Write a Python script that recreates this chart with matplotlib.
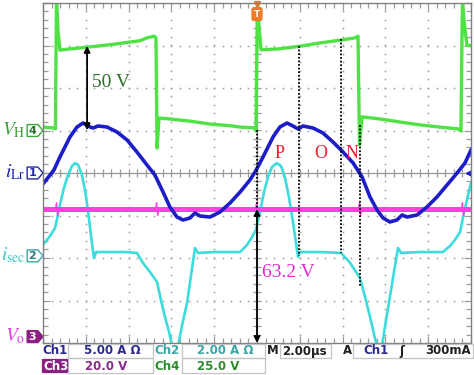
import matplotlib

matplotlib.use("Agg")

import matplotlib.pyplot as plt
import numpy as np
from matplotlib.patches import Polygon, Rectangle

W, H = 474, 375

# channel settings: units per division, ground position in divisions
CH1_SCALE, CH1_OFFSET = 5.0, 0.0     # i_Lr  [A]
CH2_SCALE, CH2_OFFSET = 2.0, -1.95   # i_sec [A]
CH3_SCALE, CH3_OFFSET = 20.0, -3.85  # V_o   [V]
CH4_SCALE, CH4_OFFSET = 25.0, 1.0    # V_H   [V]

# time in microseconds (trigger at 0)
vh_t = [-10.0, -9.49, -9.42, -9.37, -9.30, -9.21, -8.74, -7.94, -7.34, -6.54,
        -5.47, -5.14, -4.81, -4.72, -4.67, -4.58, -4.07, -3.13, -2.20, -1.26,
        -0.79, -0.09, -0.05, 0.02, 0.09, 0.19, 1.0, 1.96, 2.94, 3.93,
        4.58, 4.72, 4.79, 4.91, 5.75, 6.68, 7.62, 8.55, 9.39, 9.53,
        9.60, 9.67, 9.81, 10.0]
vh_v = [2.0, 1.5, 1.0, 77.5, 59.0, 47.3, 48.0, 49.0, 49.8, 51.0,
        52.8, 54.5, 55.5, 54.5, -10.3, 7.3, 6.8, 5.5, 3.8, 2.8,
        2.0, 1.5, -0.3, 77.5, 62.0, 47.5, 48.0, 49.5, 51.5, 53.2,
        54.5, 55.5, -8.5, 8.0, 6.8, 5.0, 3.3, 2.0, 1.0, -0.3,
        77.5, 65.0, 50.0, 50.0]

ilr_t = [-10.0, -9.67, -9.49, -9.21, -8.74, -8.41, -8.13, -7.80, -7.66, -7.43,
         -7.01, -6.54, -6.07, -5.61, -5.14, -4.77, -4.39, -4.07, -3.74, -3.46,
         -3.13, -2.90, -2.66, -2.20, -1.73, -1.26, -0.79, -0.33, -0.09, 0.28,
         0.75, 1.07, 1.40, 1.68, 1.92, 2.15, 2.62, 3.08, 3.55, 4.02,
         4.49, 4.91, 5.28, 5.61, 5.89, 6.21, 6.54, 6.78, 7.01, 7.48,
         7.94, 8.41, 8.88, 9.35, 9.72, 10.0]
ilr_a = [-1.29, -0.24, 0.35, 1.88, 4.24, 5.41, 5.88, 5.41, 5.29, 5.53,
         5.41, 4.82, 3.88, 2.47, 0.94, -0.24, -2.24, -4.0, -5.18, -5.53,
         -5.29, -4.71, -5.06, -5.18, -4.59, -3.53, -2.24, -0.82, 0.12, 1.88,
         4.24, 5.41, 5.88, 5.53, 5.18, 5.53, 5.29, 4.71, 3.65, 2.47,
         1.18, -0.47, -2.82, -4.35, -5.29, -5.76, -5.53, -4.94, -5.18, -4.94,
         -4.0, -2.82, -1.41, 0.0, 1.18, 2.71]

isec_t = [-10.0, -9.67, -9.44, -9.35, -9.21, -9.02, -8.83, -8.64, -8.50, -8.36,
          -8.18, -8.04, -7.90, -7.76, -7.62, -7.52, -6.87, -6.17, -5.61, -5.33,
          -5.00, -4.67, -4.49, -4.30, -4.11, -3.97, -3.69, -3.50, -3.27, -3.08,
          -2.90, -2.76, -1.96, -0.79, -0.47, -0.23, -0.05, 0.14, 0.33, 0.51,
          0.70, 0.93, 1.12, 1.31, 1.50, 1.68, 1.82, 1.92, 2.01, 2.94,
          3.93, 4.35, 4.81, 5.05, 5.28, 5.51, 5.61, 5.84, 6.03, 6.21,
          6.40, 6.59, 6.73, 7.62, 8.69, 9.02, 9.25, 9.49, 9.63, 9.81,
          10.0]
isec_a = [0.51, 0.94, 1.31, 1.69, 2.40, 3.20, 3.81, 4.23, 4.37, 4.28,
          3.81, 3.10, 2.16, 0.98, -0.10, 0.18, 0.18, 0.18, 0.14, -0.33,
          -0.76, -1.23, -2.07, -2.88, -3.58, -4.24, -4.24, -3.25, -2.22, -0.90,
          0.37, 0.14, 0.18, 0.18, 0.51, 0.89, 1.22, 2.07, 3.01, 3.71,
          4.18, 4.37, 4.23, 3.67, 2.72, 1.60, 0.61, -0.05, 0.18, 0.18,
          0.14, -0.33, -1.04, -1.93, -2.87, -3.86, -4.24, -4.24, -3.01, -1.93,
          -0.76, 0.37, 0.14, 0.18, 0.18, 0.47, 0.75, 1.12, 1.83, 2.63,
          3.43]

vo_t = [-10.0, -9.42, -9.37, -9.32, -9.27, -4.74, -4.69, -4.64, -4.59, -0.07,
        -0.02, 0.03, 0.08, 4.74, 4.79, 4.84, 4.89, 9.55, 9.60, 9.65,
        9.70, 10.0]
vo_v = [60.0, 60.0, 63.0, 57.0, 60.0, 60.0, 63.0, 57.0, 60.0, 60.0,
        63.0, 57.0, 60.0, 60.0, 63.0, 57.0, 60.0, 60.0, 63.0, 57.0,
        60.0, 60.0]

# dotted markers for the P / O / N intervals: time, top and bottom (div)
event_t = [0.0, 1.96, 3.93, 4.81]
event_top = [1.01, 2.99, 3.15, 1.13]
event_bottom = [-0.85, -1.95, -1.88, -2.68]
interval_labels = ["P", "O", "N"]
interval_t = [1.05, 2.97, 4.46]

GRID = "#9a9a9a"
PINK = "#ff40e0"

plt.rcParams["mathtext.fontset"] = "stix"
fig = plt.figure(figsize=(W / 100, H / 100), dpi=100)
ax = fig.add_axes([43 / W, 1 - 343 / H, 428 / W, 340 / H])
ax.set_xlim(-10, 10)
ax.set_ylim(-4, 4)

# graticule
for gx in np.arange(-8, 9, 2):
    if gx == 0:
        continue
    ys = np.arange(-4, 4.01, 0.2)
    ax.plot(np.full_like(ys, gx), ys, ls="none", marker="s", ms=1.1, color=GRID, mew=0)
for gy in np.arange(-3, 4, 1):
    if gy == 0:
        continue
    xs = np.arange(-10, 10.01, 0.4)
    ax.plot(xs, np.full_like(xs, gy), ls="none", marker="s", ms=1.1, color=GRID, mew=0)
ax.axhline(0, color=GRID, lw=0.9)
ax.axvline(0, color=GRID, lw=0.9)
xs = np.arange(-10, 10.01, 0.4)
ax.plot(xs, np.zeros_like(xs), ls="none", marker="|", ms=6, mew=0.9, color=GRID)
ys = np.arange(-4, 4.01, 0.2)
ax.plot(np.zeros_like(ys), ys, ls="none", marker="_", ms=6, mew=0.9, color=GRID)

ax.set_xticks(np.arange(-10, 10.01, 2))
ax.set_xticks(np.arange(-10, 10.01, 0.4), minor=True)
ax.set_yticks(np.arange(-4, 4.01, 1))
ax.set_yticks(np.arange(-4, 4.01, 0.2), minor=True)
ax.tick_params(which="both", direction="in", top=True, right=True,
               labelbottom=False, labelleft=False, color=GRID, width=0.9)
ax.tick_params(which="major", length=5)
ax.tick_params(which="minor", length=3.5)
for sp in ax.spines.values():
    sp.set_color("#808080")
    sp.set_linewidth(1.0)

# traces
ax.plot(vh_t, np.array(vh_v) / CH4_SCALE + CH4_OFFSET, color="#4ee244", lw=2.4)
ax.plot(isec_t, np.array(isec_a) / CH2_SCALE + CH2_OFFSET, color="#3ddcdc", lw=1.9)
vo_div = np.array(vo_v) / CH3_SCALE + CH3_OFFSET
ax.plot([vo_t[0], vo_t[-1]], [vo_div[0], vo_div[-1]], color=PINK, lw=3.6, solid_capstyle="butt")
ax.plot(vo_t, vo_div, color=PINK, lw=1.0)
ax.plot(ilr_t, np.array(ilr_a) / CH1_SCALE + CH1_OFFSET, color="#1c1cc8", lw=2.6)

# annotations
for t, y0, y1 in zip(event_t, event_top, event_bottom):
    ax.plot([t, t], [y0, y1], color="black", lw=1.3, ls=(0, (1, 1)))

arrow = dict(arrowstyle="<|-|>", color="black", lw=1.3, mutation_scale=9, shrinkA=0, shrinkB=0)
ax.annotate("", xy=(-7.94, 2.99), xytext=(-7.94, 1.01), arrowprops=arrow)
ax.text(-7.7, 2.12, "50 V", family="Liberation Serif", fontsize=14, color="#2e6e2a",
        ha="left", va="center")
ax.annotate("", xy=(0.0, -0.85), xytext=(0.0, -4.0), arrowprops=arrow, annotation_clip=False)
ax.text(0.23, -2.35, "63.2 V", family="Liberation Serif", fontsize=14, color="#e22ad2",
        ha="left", va="center")
for lab, t in zip(interval_labels, interval_t):
    ax.text(t, 0.47, lab, family="Liberation Serif", fontsize=13, color="#e8202a",
            ha="center", va="center")

# trigger marker and level
ax.plot([0], [3.97], marker="v", ms=5, color="#f07a28", clip_on=False)
ax.text(0, 3.74, "T", fontsize=6.5, fontweight="bold", color="white", ha="center", va="center",
        bbox=dict(boxstyle="round,pad=0.2", fc="#f07a28", ec="#f07a28"))
ax.plot([9.9], [0], marker="<", ms=5, color="#1c1cc8")


def channel_tag(y, digit, edge, txt, label, label_color, fill="white"):
    tr = ax.get_yaxis_transform()
    x0, x1, tip, h = -0.037, -0.012, 0.0, 0.14
    poly = Polygon([(x0, y - h), (x1, y - h), (tip, y), (x1, y + h), (x0, y + h)],
                   closed=True, transform=tr, fc=fill, ec=edge, lw=1.0, clip_on=False)
    ax.add_patch(poly)
    ax.text((x0 + x1) / 2 - 0.001, y, digit, transform=tr, ha="center", va="center",
            fontsize=8, fontweight="bold", color=txt, clip_on=False)
    ax.text(-0.042, y + 0.02, label, transform=tr, ha="right", va="center",
            fontsize=14, color=label_color, clip_on=False)


channel_tag(CH4_OFFSET, "4", "#3aa83a", "#2e6e2a", r"$V_{\mathrm{H}}$", "#3a9e3a")
channel_tag(CH1_OFFSET, "1", "#2828a0", "#2828a0", r"$i_{\mathrm{Lr}}$", "#2222aa")
channel_tag(CH2_OFFSET, "2", "#3aaaaa", "#2a7a7a", r"$i_{\mathrm{sec}}$", "#3cc4c4")
channel_tag(CH3_OFFSET, "3", "#8a2082", "white", r"$V_{\mathrm{o}}$", "#e03ee0", fill="#8a2082")


# readout panel below the graticule
def px_text(x, y, s, color, ha="left"):
    fig.text(x / W, 1 - y / H, s, color=color, ha=ha, va="center",
             fontsize=8.5, fontweight="bold", family="DejaVu Sans")


def px_box(x0, y0, x1, y1, fc="none", ec="#c4c4c4"):
    fig.patches.append(Rectangle((x0 / W, 1 - y1 / H), (x1 - x0) / W, (y1 - y0) / H,
                                 transform=fig.transFigure, fc=fc, ec=ec, lw=0.9))


px_box(68, 344, 153, 358)
px_box(182, 344, 265, 358)
px_box(280, 344, 331, 358)
px_box(353, 344, 473, 358)
px_box(68, 358, 153, 373)
px_box(182, 358, 265, 373)
px_box(42, 359, 67, 372, fc="#8a2082", ec="#8a2082")

px_text(42, 351, "Ch1", "#2b2b8f")
px_text(84, 351, "5.00 A \u03a9", "#2b2b8f")
px_text(154, 351, "Ch2", "#3aa6a6")
px_text(197, 351, "2.00 A \u03a9", "#3aa6a6")
px_text(267, 351, "M", "#202020")
px_text(282, 351, "2.00\u00b5s", "#202020")
px_text(343, 351, "A", "#202020")
px_text(363, 351, "Ch1", "#2b2b8f")
px_text(399, 351, "\u0283", "#202020")
px_text(471, 351, "300mA", "#202020", ha="right")
px_text(43, 366, "Ch3", "white")
px_text(85, 366, "20.0 V", "#8a2a8a")
px_text(154, 366, "Ch4", "#2e8b2e")
px_text(197, 366, "25.0 V", "#2e8b2e")

fig.savefig("out.png", dpi=100)
